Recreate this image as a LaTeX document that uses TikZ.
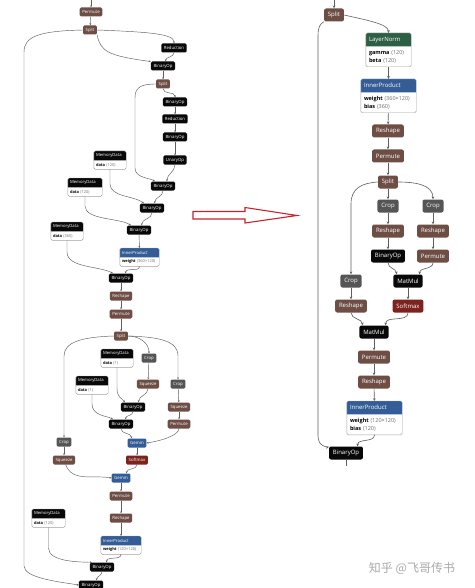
\documentclass[tikz,border=0pt]{standalone}
\usepackage{fontspec}
\setmainfont{Open Sans}
\newfontfamily\cjkwm{Noto Sans CJK SC}
\usetikzlibrary{arrows.meta}
\definecolor{cbrown}{RGB}{110,78,68}
\definecolor{cgrayop}{RGB}{85,85,85}
\definecolor{cblue}{RGB}{52,92,150}
\definecolor{credop}{RGB}{125,35,30}
\definecolor{cgreen}{RGB}{45,95,70}
\definecolor{cblk}{RGB}{8,8,8}
\definecolor{cedge}{RGB}{95,95,95}
\definecolor{cborder}{RGB}{160,160,160}
\definecolor{cval}{RGB}{110,110,110}
\definecolor{cwm}{RGB}{170,170,170}
\definecolor{carrow}{RGB}{200,35,45}
\pgfdeclarelayer{bg}
\pgfsetlayers{bg,main}
\tikzset{
  lnode/.style={text=white, font=\fontsize{4.3}{5}\selectfont, minimum height=9pt, inner xsep=2.6pt, inner ysep=0pt, rounded corners=1.3pt},
  rnode/.style={text=white, font=\fontsize{6}{7}\selectfont, minimum height=13pt, inner xsep=3.8pt, inner ysep=0pt, rounded corners=2pt},
  opB/.style={fill=cbrown},
  opK/.style={fill=cblk},
  opG/.style={fill=cgrayop},
  opU/.style={fill=cblue},
  opR/.style={fill=credop},
  lhead/.style={text=white, font=\fontsize{4.2}{5}\selectfont, minimum height=9pt, inner xsep=2pt, inner ysep=0pt, align=left},
  lbody/.style={fill=white, font=\fontsize{4}{5}\selectfont, minimum height=8.5pt, inner xsep=2pt, inner ysep=0pt, align=left},
  rhead/.style={text=white, font=\fontsize{6}{7}\selectfont, minimum height=13pt, inner xsep=3pt, inner ysep=0pt, align=left},
  rbody/.style={fill=white, font=\fontsize{5.5}{7.8}\selectfont, minimum height=20pt, inner xsep=3pt, inner ysep=2pt, align=left},
  le/.style={draw=cedge, line width=0.45pt, -{Stealth[length=2pt,width=1.8pt]}},
  re/.style={draw=cedge, line width=0.6pt, -{Stealth[length=2.8pt,width=2.6pt]}},
  vv/.style={out=-90,in=90},
}
\newcommand\kvpair[2]{{\bfseries #1}\ {\color{cval}#2}}
\newcommand\mkcard[9]{%
  \node[#5, text width=#4pt, anchor=north] (#1) at (#2,#3) {#8};
  \node[#6, text width=#4pt, anchor=north] (#1b) at (#1.south) {#9};
  \begin{pgfonlayer}{bg}
    \fill[#7] (#1.south west) [rounded corners=1.5pt] -- (#1.north west) -- (#1.north east) [sharp corners] -- (#1.south east) -- cycle;
  \end{pgfonlayer}
  \draw[cborder, line width=0.4pt, rounded corners=1.5pt] (#1.north west) rectangle (#1b.south east);
}
\begin{document}
\begin{tikzpicture}[x=1pt,y=1pt]
\begin{pgfonlayer}{bg}
\fill[white] (0,0) rectangle (474,-588);
\end{pgfonlayer}
\useasboundingbox (0,0) rectangle (474,-588);

% ================= LEFT GRAPH =================
\coordinate (Ltop) at (91,0);
\coordinate (Lbot) at (91,-592);
\node[lnode,opB] (Lperm1) at (91,-12) {Permute};
\node[lnode,opB] (Lsplit1) at (90,-30) {Split};
\node[lnode,opK] (Lred1) at (174,-48) {Reduction};
\node[lnode,opK] (Lbo1) at (163,-66) {BinaryOp};
\node[lnode,opB] (Lsplit2) at (163,-84) {Split};
\node[lnode,opK] (Lbo2) at (175,-102) {BinaryOp};
\node[lnode,opK] (Lred2) at (175,-119) {Reduction};
\node[lnode,opK] (Lbo3) at (175,-137) {BinaryOp};
\node[lnode,opK] (Lun) at (175,-160) {UnaryOp};
\node[lnode,opK] (Lbo4) at (163,-186) {BinaryOp};
\mkcard{Lmd1}{110}{-151}{28}{lhead}{lbody}{cblk}{MemoryData}{\kvpair{data}{(120)}}
\node[lnode,opK] (Lbo5) at (152,-208) {BinaryOp};
\mkcard{Lmd2}{85}{-178}{30}{lhead}{lbody}{cblk}{MemoryData}{\kvpair{data}{(120)}}
\node[lnode,opK] (Lbo6) at (139,-230) {BinaryOp};
\mkcard{Lmd3}{67}{-222}{28}{lhead}{lbody}{cblk}{MemoryData}{\kvpair{data}{(360)}}
\mkcard{Lip}{139.5}{-248}{35}{lhead}{lbody}{cblue}{InnerProduct}{\kvpair{weight}{(360×120)}}
\node[lnode,opK] (Lbo7) at (121,-278) {BinaryOp};
\node[lnode,opB] (Lresh1) at (121,-296) {Reshape};
\node[lnode,opB] (Lperm2) at (121,-314) {Permute};
\node[lnode,opB] (Lsplit3) at (121,-336) {Split};
\mkcard{Lmd4}{117}{-349}{28}{lhead}{lbody}{cblk}{MemoryData}{\kvpair{data}{(1)}}
\node[lnode,opG] (Lcrop1) at (149,-358) {Crop};
\mkcard{Lmd5}{92}{-376}{28}{lhead}{lbody}{cblk}{MemoryData}{\kvpair{data}{(1)}}
\node[lnode,opB] (Lsq1) at (148,-384) {Squeeze};
\node[lnode,opG] (Lcrop2) at (178,-384) {Crop};
\node[lnode,opK] (Lbo8) at (133,-407) {BinaryOp};
\node[lnode,opB] (Lsq2) at (179,-407) {Squeeze};
\node[lnode,opK] (Lbo9) at (121,-424) {BinaryOp};
\node[lnode,opB] (Lperm3) at (179,-424) {Permute};
\node[lnode,opG] (Lcrop3) at (64,-442) {Crop};
\node[lnode,opU] (Lgemm1) at (137,-443) {Gemm};
\node[lnode,opB] (Lsq3) at (64,-460) {Squeeze};
\node[lnode,opR] (Lsoft) at (137,-460) {Softmax};
\node[lnode,opU] (Lgemm2) at (121,-478) {Gemm};
\node[lnode,opB] (Lperm4) at (121,-496) {Permute};
\node[lnode,opB] (Lresh2) at (121,-518) {Reshape};
\mkcard{Lmd6}{48.5}{-509}{29}{lhead}{lbody}{cblk}{MemoryData}{\kvpair{data}{(120)}}
\mkcard{Lip2}{121}{-536}{36}{lhead}{lbody}{cblue}{InnerProduct}{\kvpair{weight}{(120×120)}}
\node[lnode,opK] (Lbo10) at (102,-567) {BinaryOp};
\node[lnode,opK] (Lbo11) at (91,-585) {BinaryOp};

\draw[le] (Ltop) -- (Lperm1);
\draw[le] (Lperm1) -- (Lsplit1);
\draw[le] (Lsplit1.east) .. controls (150,-32) and (174,-34) .. (Lred1.north);
\draw[le] (Lsplit1.south east) .. controls (100,-52) and (110,-56) .. (Lbo1.160);
\draw[le] (Lred1) to[vv] (Lbo1.60);
\draw[le] (Lsplit1.west) .. controls (40,-31) and (24,-36) .. (24,-52) -- (24,-566) .. controls (24,-578) and (60,-582) .. (Lbo11.west);
\draw[le] (Lbo1) -- (Lsplit2);
\draw[le] (Lsplit2) to[vv] (Lbo2);
\draw[le] (Lbo2) -- (Lred2);
\draw[le] (Lred2) -- (Lbo3);
\draw[le] (Lbo3) -- (Lun);
\draw[le] (Lun) to[vv] (Lbo4.50);
\draw[le] (Lsplit2.west) .. controls (140,-84) and (135,-88) .. (135,-98) -- (135,-168) .. controls (135,-178) and (150,-178) .. (Lbo4.150);
\draw[le] (Lbo4) to[vv] (Lbo5.60);
\draw[le] (Lmd1b.south) -- (110,-184) .. controls (110,-197) and (135,-196) .. (Lbo5.150);
\draw[le] (Lbo5) to[vv] (Lbo6.60);
\draw[le] (Lmd2b.south) -- (85,-206) .. controls (85,-220) and (120,-218) .. (Lbo6.150);
\draw[le] (Lbo6) -- (Lip);
\draw[le] (Lipb) to[vv] (Lbo7.45);
\draw[le] (Lmd3b.south) -- (67,-252) .. controls (67,-268) and (100,-266) .. (Lbo7.150);
\draw[le] (Lbo7) -- (Lresh1);
\draw[le] (Lresh1) -- (Lperm2);
\draw[le] (Lperm2) -- (Lsplit3);
\draw[le] (Lsplit3.east) to[out=0,in=90] (Lcrop1);
\draw[le] (Lsplit3.east) .. controls (160,-337) and (178,-341) .. (178,-356) -- (Lcrop2);
\draw[le] (Lsplit3.west) .. controls (82,-337) and (64,-342) .. (64,-356) -- (Lcrop3);
\draw[le] (Lcrop1) -- (Lsq1);
\draw[le] (Lsq1) to[vv] (Lbo8.40);
\draw[le] (Lmd4b.south) -- (117,-388) .. controls (117,-398) and (122,-398) .. (Lbo8.150);
\draw[le] (Lbo8) to[vv] (Lbo9.45);
\draw[le] (Lmd5b.south) -- (92,-404) .. controls (92,-416) and (108,-416) .. (Lbo9.150);
\draw[le] (Lcrop2) -- (Lsq2);
\draw[le] (Lsq2) -- (Lperm3);
\draw[le] (Lperm3.south) .. controls (178,-436) and (160,-441) .. (Lgemm1.east);
\draw[le] (Lbo9) to[vv] (Lgemm1.140);
\draw[le] (Lgemm1) -- (Lsoft);
\draw[le] (Lsoft) to[vv] (Lgemm2.40);
\draw[le] (Lcrop3) -- (Lsq3);
\draw[le] (Lsq3) to[out=-70,in=170] (Lgemm2.west);
\draw[le] (Lgemm2) -- (Lperm4);
\draw[le] (Lperm4) -- (Lresh2);
\draw[le] (Lresh2) -- (Lip2);
\draw[le] (Lip2b) to[vv] (Lbo10.45);
\draw[le] (Lmd6b.south) -- (48.5,-548) .. controls (48.5,-562) and (80,-562) .. (Lbo10.155);
\draw[le] (Lbo10) to[vv] (Lbo11.40);
\draw[cedge, line width=0.45pt] (Lbo11) -- (Lbot);

% ================= ARROW =================
\draw[carrow, line width=1.1pt, fill=white, line join=miter]
  (193,-211.5) -- (245,-211.5) -- (245,-207.5) -- (297,-215.5) -- (245,-223) -- (245,-219) -- (193,-219) -- cycle;

% ================= RIGHT GRAPH =================
\coordinate (Rtop) at (334,0);
\coordinate (Rbot) at (346,-466);
\node[rnode,opB] (Rsplit1) at (334,-15) {Split};
\mkcard{Rln}{388.5}{-33}{39}{rhead}{rbody}{cgreen}{LayerNorm}{\kvpair{gamma}{(120)}\\\kvpair{beta}{(120)}}
\mkcard{Rip}{388.5}{-79}{49}{rhead}{rbody}{cblue}{InnerProduct}{\kvpair{weight}{(360×120)}\\\kvpair{bias}{(360)}}
\node[rnode,opB] (Rresh1) at (388,-131) {Reshape};
\node[rnode,opB] (Rperm1) at (388,-156) {Permute};
\node[rnode,opB] (Rsplit2) at (388,-182) {Split};
\node[rnode,opG] (Rcrop1) at (388,-206) {Crop};
\node[rnode,opG] (Rcrop2) at (433,-206) {Crop};
\node[rnode,opB] (Rresh2) at (388,-231) {Reshape};
\node[rnode,opB] (Rresh3) at (433,-231) {Reshape};
\node[rnode,opK] (Rbo1) at (388,-256) {BinaryOp};
\node[rnode,opB] (Rperm2) at (433,-256) {Permute};
\node[rnode,opG] (Rcrop3) at (351,-281) {Crop};
\node[rnode,opK] (Rmm1) at (408,-281) {MatMul};
\node[rnode,opB] (Rresh4) at (351,-306) {Reshape};
\node[rnode,opR] (Rsoft) at (408,-306) {Softmax};
\node[rnode,opK] (Rmm2) at (374,-332) {MatMul};
\node[rnode,opB] (Rperm3) at (374,-357) {Permute};
\node[rnode,opB] (Rresh5) at (374,-382) {Reshape};
\mkcard{Rip2}{374.5}{-401}{49}{rhead}{rbody}{cblue}{InnerProduct}{\kvpair{weight}{(120×120)}\\\kvpair{bias}{(120)}}
\node[rnode,opK] (Rbo2) at (346,-453) {BinaryOp};

\draw[re] (Rtop) -- (Rsplit1);
\draw[re] (Rsplit1.east) .. controls (366,-20) and (388.5,-24) .. (Rln.north);
\draw[re] (Rsplit1.south west) .. controls (320,-24) and (318,-27) .. (318,-36) -- (318,-436) .. controls (318,-447) and (328,-447) .. (Rbo2.160);
\draw[re] (Rlnb) -- (Rip);
\draw[re] (Ripb) -- (Rresh1);
\draw[re] (Rresh1) -- (Rperm1);
\draw[re] (Rperm1) -- (Rsplit2);
\draw[re] (Rsplit2) -- (Rcrop1);
\draw[re] (Rsplit2.east) to[out=0,in=90] (Rcrop2);
\draw[re] (Rsplit2.west) .. controls (362,-183) and (351,-188) .. (351,-204) -- (Rcrop3);
\draw[re] (Rcrop1) -- (Rresh2);
\draw[re] (Rresh2) -- (Rbo1);
\draw[re] (Rcrop2) -- (Rresh3);
\draw[re] (Rresh3) -- (Rperm2);
\draw[re] (Rbo1) to[vv] (Rmm1.150);
\draw[re] (Rperm2) to[vv] (Rmm1.30);
\draw[re] (Rmm1) -- (Rsoft);
\draw[re] (Rcrop3) -- (Rresh4);
\draw[re] (Rresh4) to[vv] (Rmm2.150);
\draw[re] (Rsoft) to[vv] (Rmm2.30);
\draw[re] (Rmm2) -- (Rperm3);
\draw[re] (Rperm3) -- (Rresh5);
\draw[re] (Rresh5) -- (Rip2);
\draw[re] (Rip2b) to[vv] (Rbo2.30);
\draw[cedge, line width=0.6pt] (Rbo2) -- (Rbot);

% watermark
\node[font=\cjkwm\fontsize{12}{12}\selectfont, text=cwm] (wm) at (412,-568) {知乎 @飞哥传书};
\end{tikzpicture}
\end{document}
